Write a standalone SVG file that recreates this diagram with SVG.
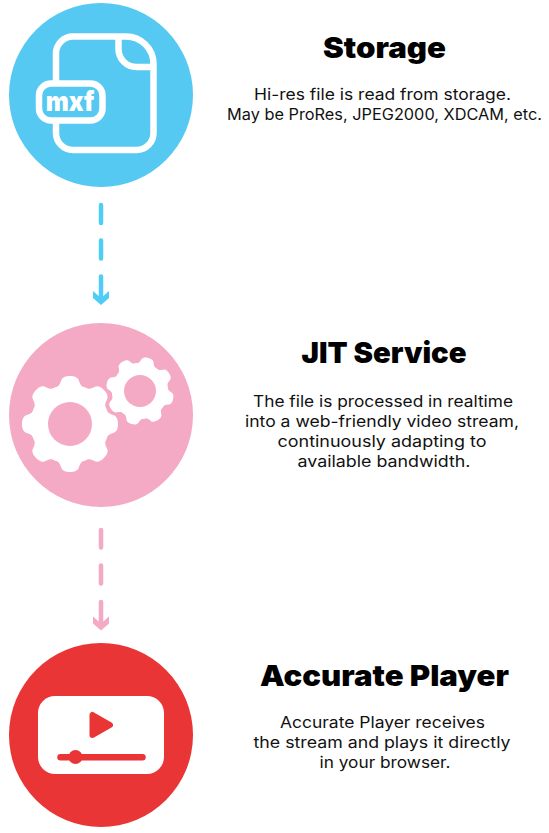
<svg xmlns="http://www.w3.org/2000/svg" xmlns:xlink="http://www.w3.org/1999/xlink" width="549" height="833" viewBox="0 0 549 833">
<style>
.t{font-family:"Inter","Liberation Sans",sans-serif;font-weight:900;font-size:29px;fill:#000;text-anchor:middle}
.b{font-family:"Inter","Liberation Sans",sans-serif;font-weight:400;font-size:15.5px;fill:#111;text-anchor:middle}
.f{fill:none;stroke:#fff;stroke-width:6.5}
.d{fill:none;stroke-width:4.500;stroke-linecap:round}
</style>
<defs>
<path id="w" d="M0,0L-15,-36.500C-11.500,-37 -10,-40 -9,-43C-8,-47 -4,-48 0,-48C4,-48 8,-47 9,-43C10,-40 11.500,-37 15,-36.500Z"/>
<g id="gear">
<use xlink:href="#w" href="#w"/>
<use xlink:href="#w" href="#w" transform="rotate(45)"/>
<use xlink:href="#w" href="#w" transform="rotate(90)"/>
<use xlink:href="#w" href="#w" transform="rotate(135)"/>
<use xlink:href="#w" href="#w" transform="rotate(180)"/>
<use xlink:href="#w" href="#w" transform="rotate(225)"/>
<use xlink:href="#w" href="#w" transform="rotate(270)"/>
<use xlink:href="#w" href="#w" transform="rotate(315)"/>
<circle r="39.400"/>
</g>
</defs>
<g id="connectors">
<path class="d" stroke="#4fcdf7" d="M101,205V223M101,240.500V258.500M101,276.500V298"/>
<path fill="#4fcdf7" d="M93,291L101,298V305L93,298ZM109,291L101,298V305L109,298Z"/>
<path class="d" stroke="#f4a9c4" d="M101,530V547.500M101,565.500V583.500M101,602V623"/>
<path fill="#f4a9c4" d="M93,616.500L101,623.500V630.500L93,623.500ZM109,616.500L101,623.500V630.500L109,623.500Z"/>
</g>
<g id="storage">
<circle cx="101" cy="95" r="92" fill="#56c9f3"/>
<path class="f" d="M118.500,36.500H73A17,17 0 0 0 56,53.500V133A17,17 0 0 0 73,150H136A17,17 0 0 0 153.500,133V64A27.500,27.500 0 0 0 126,36.500H118.500V49A18,18 0 0 0 136.500,67H153.500"/>
<rect x="39" y="83.500" width="63.500" height="37" rx="12" fill="#56c9f3" stroke="#fff" stroke-width="6.500"/>
<text x="70" y="111" text-anchor="middle" font-family="Inter,'Liberation Sans',sans-serif" font-weight="900" font-size="27" fill="#fff" textLength="48.500" lengthAdjust="spacingAndGlyphs">mxf</text>
<text class="t" x="384.500" y="58" textLength="123" lengthAdjust="spacingAndGlyphs">Storage</text>
<text class="b" x="382.500" y="100" textLength="257" lengthAdjust="spacingAndGlyphs">Hi-res file is read from storage.</text>
<text class="b" x="384.500" y="120" textLength="315" lengthAdjust="spacingAndGlyphs">May be ProRes, JPEG2000, XDCAM, etc.</text>
</g>
<g id="jit">
<circle cx="101" cy="415" r="92" fill="#f4a9c4"/>
<use xlink:href="#gear" href="#gear" transform="translate(140 391) rotate(14) scale(.71)" fill="#fff"/>
<circle cx="140" cy="391" r="16" fill="#f4a9c4"/>
<use xlink:href="#gear" href="#gear" transform="translate(70 424)" fill="#f4a9c4" stroke="#f4a9c4" stroke-width="5"/>
<use xlink:href="#gear" href="#gear" transform="translate(70 424)" fill="#fff"/>
<circle cx="70" cy="424" r="22" fill="#f4a9c4"/>
<text class="t" x="384" y="363" textLength="165" lengthAdjust="spacingAndGlyphs">JIT Service</text>
<text class="b" x="383" y="407" textLength="260" lengthAdjust="spacingAndGlyphs">The file is processed in realtime</text>
<text class="b" x="382" y="427" textLength="274" lengthAdjust="spacingAndGlyphs">into a web-friendly video stream,</text>
<text class="b" x="382" y="447" textLength="209" lengthAdjust="spacingAndGlyphs">continuously adapting to</text>
<text class="b" x="384" y="467" textLength="173" lengthAdjust="spacingAndGlyphs">available bandwidth.</text>
</g>
<g id="player">
<circle cx="101" cy="735" r="92" fill="#e93535"/>
<rect x="38" y="696" width="126" height="78" rx="17" fill="#fff"/>
<path d="M92.500,715V735L110,725Z" fill="#e93535" stroke="#e93535" stroke-width="6" stroke-linejoin="round"/>
<line x1="60.500" y1="757.300" x2="142.500" y2="757.300" stroke="#e93535" stroke-width="6.500" stroke-linecap="round"/>
<circle cx="75.500" cy="757" r="7" fill="#e93535"/>
<text class="t" x="384.500" y="686" textLength="249" lengthAdjust="spacingAndGlyphs">Accurate Player</text>
<text class="b" x="382.500" y="728" textLength="205" lengthAdjust="spacingAndGlyphs">Accurate Player receives</text>
<text class="b" x="382" y="748" textLength="257" lengthAdjust="spacingAndGlyphs">the stream and plays it directly</text>
<text class="b" x="385" y="768" textLength="131" lengthAdjust="spacingAndGlyphs">in your browser.</text>
</g>
</svg>
